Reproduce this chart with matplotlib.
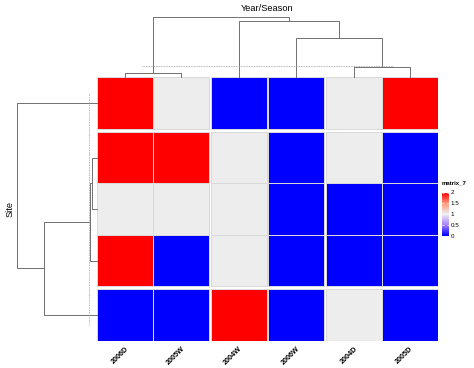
import numpy as np
import matplotlib
matplotlib.use('Agg')
import matplotlib.pyplot as plt
from matplotlib.colors import LinearSegmentedColormap, Normalize
from matplotlib.cm import ScalarMappable

plt.rcParams['font.family'] = ['Liberation Sans', 'DejaVu Sans']

# data: sites (rows, top to bottom) x year/season (columns)
years = ['2006D', '2005W', '2004W', '2006W', '2004D', '2005D']
values = np.array([
    [2, 1, 0, 0, 1, 2],
    [2, 2, 1, 0, 1, 0],
    [1, 1, 1, 0, 0, 0],
    [2, 0, 1, 0, 0, 0],
    [0, 0, 2, 0, 1, 0],
])
col_groups = [0, 0, 1, 2, 3, 3]
row_groups = [0, 1, 1, 1, 2]

# dendrograms as (child a, child b, height), new nodes get next index
col_merges = [(0, 1, 0.35), (4, 5, 0.91), (3, 7, 3.56), (2, 8, 5.11), (6, 9, 5.51)]
row_merges = [(1, 2, 0.68), (5, 3, 0.91), (6, 4, 7.08), (0, 7, 10.73)]
cut_height = 1.0

legend_ticks = [0, 0.5, 1, 1.5, 2]
legend_labels = ['0', '0.5', '1', '1.5', '2']

cmap = LinearSegmentedColormap.from_list(
    'bwr_lab', ['#0000FF', '#AA83FA', '#EEEEEE', '#FF9679', '#FF0000'])
norm = Normalize(0, 2)

W, H = 474, 368
fig = plt.figure(figsize=(W / 100, H / 100), dpi=100)


def px_axes(x0, y0, x1, y1):
    return fig.add_axes([x0 / W, 1 - y1 / H, (x1 - x0) / W, (y1 - y0) / H])


# heatmap body
ax = px_axes(97.3, 77.3, 437.8, 340.8)
gx, gy = 0.03, 0.058
col_x = np.arange(len(years)) + gx * np.array(col_groups)
row_y = np.arange(values.shape[0]) + gy * np.array(row_groups)

for rg in sorted(set(row_groups)):
    ri = np.where(np.array(row_groups) == rg)[0]
    for cg in sorted(set(col_groups)):
        ci = np.where(np.array(col_groups) == cg)[0]
        xe = np.append(col_x[ci], col_x[ci[-1]] + 1)
        ye = np.append(row_y[ri], row_y[ri[-1]] + 1)
        ax.pcolormesh(xe, ye, values[np.ix_(ri, ci)], cmap=cmap, norm=norm,
                      edgecolors='#d9d9d9', linewidth=0.5)

ax.set_xlim(0, len(years) + gx * max(col_groups))
ax.set_ylim(values.shape[0] + gy * max(row_groups), 0)
ax.set_xticks(col_x + 0.5)
ax.set_xticklabels(years, rotation=45, ha='right', rotation_mode='anchor',
                   fontsize=5.2, fontweight='bold')
ax.tick_params(length=0, pad=3)
ax.set_yticks([])
for s in ax.spines.values():
    s.set_visible(False)


def draw_dendro(dax, merges, leaf_pos, side):
    pos = list(leaf_pos)
    hts = [0.0] * len(leaf_pos)
    crossing = []
    for a, b, h in merges:
        pa, pb = pos[a], pos[b]
        p = [pa, pa, pb, pb]
        q = [hts[a], h, h, hts[b]]
        if side == 'top':
            dax.plot(p, q, color='#707070', lw=0.7, clip_on=False)
        else:
            dax.plot(q, p, color='#707070', lw=0.7, clip_on=False)
        if h > cut_height:
            crossing += [pos[c] for c in (a, b) if hts[c] < cut_height]
        pos.append((pa + pb) / 2)
        hts.append(h)
    lo, hi = min(crossing) - 0.2, max(crossing) + 0.2
    if side == 'top':
        dax.plot([lo, hi], [cut_height, cut_height], color='#9a9a9a', lw=0.6,
                 ls=(0, (1, 1)))
    else:
        dax.plot([cut_height, cut_height], [lo, hi], color='#9a9a9a', lw=0.6,
                 ls=(0, (1, 1)))
    dax.axis('off')


# column dendrogram
cax_d = px_axes(97.3, 17, 437.8, 76.5)
draw_dendro(cax_d, col_merges, col_x + 0.5, 'top')
cax_d.set_xlim(ax.get_xlim())
cax_d.set_ylim(0, col_merges[-1][2])

# row dendrogram
rax_d = px_axes(17.3, 77.3, 96.7, 340.8)
draw_dendro(rax_d, row_merges, row_y + 0.5, 'left')
rax_d.set_ylim(ax.get_ylim())
rax_d.set_xlim(row_merges[-1][2], 0)

# titles
fig.text(267.5 / W, 1 - 8.5 / H, 'Year/Season', ha='center', va='center',
         fontsize=6.7)
fig.text(10 / W, 1 - 209 / H, 'Site', ha='center', va='center',
         rotation=90, fontsize=6.7)

# colour legend
lax = px_axes(442, 192.5, 448.5, 235.5)
cb = fig.colorbar(ScalarMappable(norm=norm, cmap=cmap), cax=lax,
                  ticks=legend_ticks)
cb.set_ticklabels(legend_labels)
cb.outline.set_visible(False)
lax.tick_params(direction='in', length=1.5, width=0.5, color='white',
                labelsize=4.5, pad=1.5, left=True, right=True,
                labelleft=False, labelright=True)
fig.text(441.7 / W, 1 - 182.5 / H, 'matrix_7', ha='left', va='center',
         fontsize=4.3, fontweight='bold')

fig.savefig('out.png', dpi=100)
